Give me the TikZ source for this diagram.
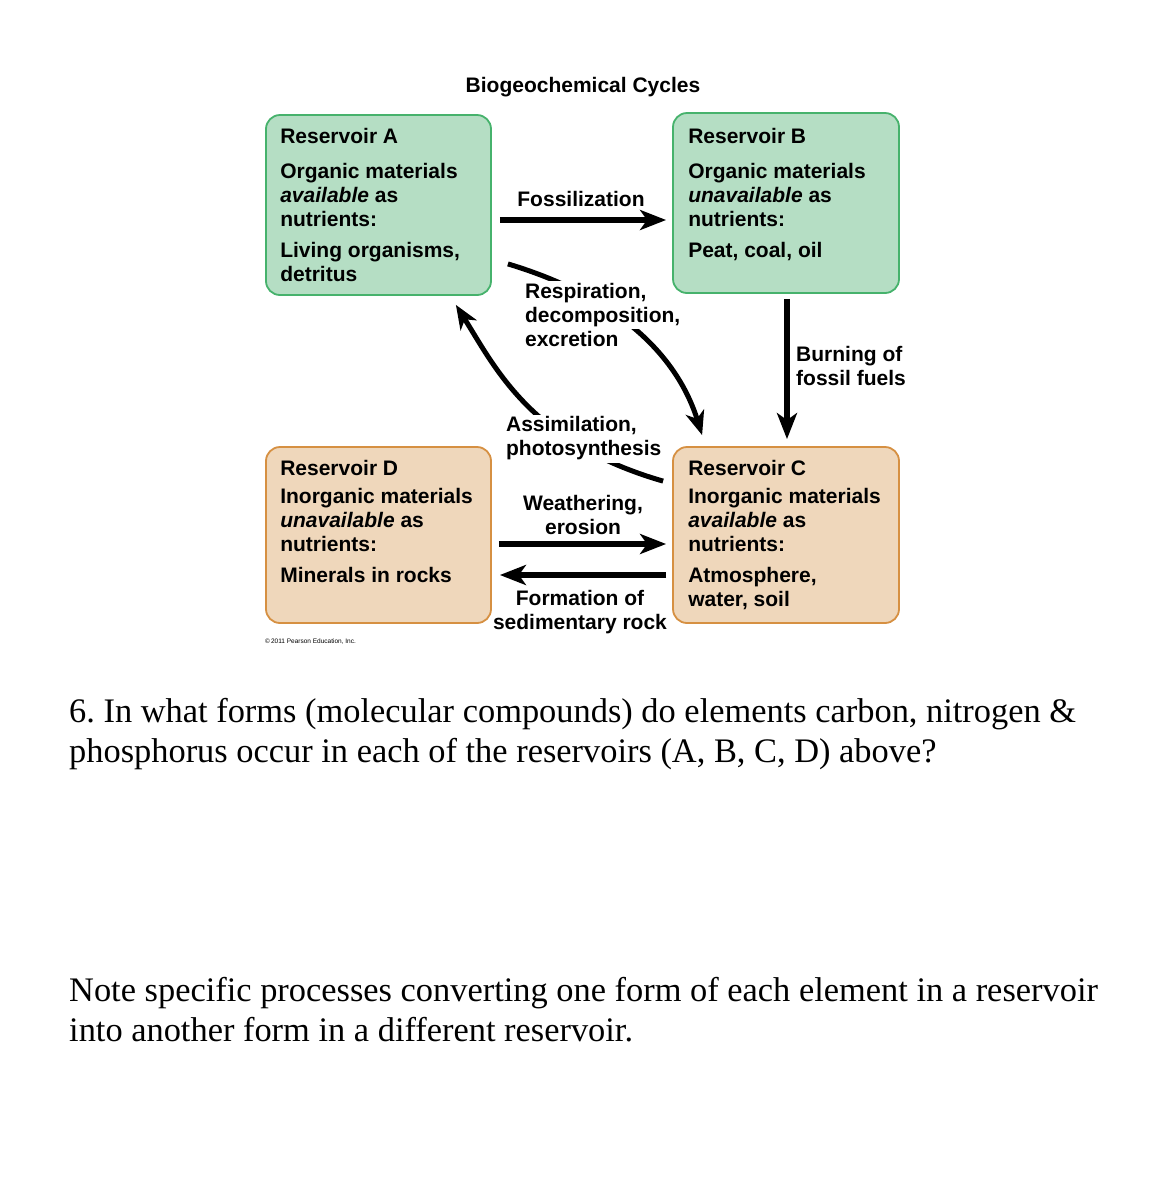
\documentclass[tikz,border=0pt]{standalone}
\usepackage{fontspec}
\setmainfont{Liberation Serif}
\setsansfont{Liberation Sans}
\usetikzlibrary{positioning,arrows.meta}
\definecolor{greenfill}{RGB}{181,222,196}
\definecolor{greenline}{RGB}{70,178,108}
\definecolor{tanfill}{RGB}{239,215,187}
\definecolor{tanline}{RGB}{214,144,66}
\tikzset{
    every node/.style={font=\sffamily\bfseries\fontsize{21}{24}\selectfont},
    greenbox/.style={draw=greenline, fill=greenfill, line width=1.8pt, rounded corners=14pt, minimum width=225pt, minimum height=180pt},
    tanbox/.style={draw=tanline, fill=tanfill, line width=1.8pt, rounded corners=14pt, minimum width=225pt, minimum height=176pt},
    boxtext/.style={anchor=base west, align=left, inner sep=0pt},
    lbl/.style={align=center, inner sep=0pt},
    knock/.style={fill=white, anchor=base west, inner xsep=1pt, inner ysep=0pt, text height=17pt, text depth=7pt},
    arrow/.style={-{Stealth[length=26pt,width=20pt,inset=7pt]}, line width=5.5pt},
    curvearrow/.style={-{Stealth[length=24pt,width=19pt,inset=7pt]}, line width=5pt},
}
\begin{document}
\frenchspacing
\begin{tikzpicture}[x=1pt,y=-1pt]
\useasboundingbox (0,0) rectangle (1170,1195);

\node at (583,92.5) [anchor=base, inner sep=0pt] (title) {Biogeochemical Cycles};

% the four reservoirs
\node[greenbox] (A) at (378.5,205) {};
\node[greenbox, minimum width=226pt] (B) at (786,203) {};
\node[tanbox, minimum width=226pt] (C) at (786,535) {};
\node[tanbox] (D) at (378.5,535) {};

% texts hang from their last line
\node[boxtext] (Atext) at ([xshift=15pt,yshift=-167.5pt]A.north west) {Reservoir A\\[11pt] Organic materials\\ \textit{available} as\\ nutrients:\\[7pt] Living organisms,\\ detritus};
\node[boxtext] (Btext) at ([xshift=16pt,yshift=-145.5pt]B.north west) {Reservoir B\\[11pt] Organic materials\\ \textit{unavailable} as\\ nutrients:\\[7pt] Peat, coal, oil};
\node[boxtext] (Ctext) at ([xshift=16pt,yshift=-160.5pt]C.north west) {Reservoir C\\[4pt] Inorganic materials\\ \textit{available} as\\ nutrients:\\[7pt] Atmosphere,\\ water, soil};
\node[boxtext] (Dtext) at ([xshift=15pt,yshift=-136.5pt]D.north west) {Reservoir D\\[4pt] Inorganic materials\\ \textit{unavailable} as\\ nutrients:\\[7pt] Minerals in rocks};

% straight fluxes
\draw[arrow] ([xshift=8pt,yshift=-15pt]A.east) -- ([xshift=-6pt,yshift=-17pt]B.west);
\draw[arrow] ([xshift=1pt,yshift=-5pt]B.south) -- ([xshift=1pt,yshift=7pt]C.north);
\draw[arrow] ([xshift=7pt,yshift=-9pt]D.east) -- ([xshift=-6pt,yshift=-9pt]C.west);
\draw[arrow] ([xshift=-6pt,yshift=-40pt]C.west) -- ([xshift=8pt,yshift=-40pt]D.east);

\node[lbl, anchor=base] (fossil) at (581,206.5) {Fossilization};
\node[boxtext] (burn) at ([xshift=10pt,yshift=-91.5pt]B.south) {Burning of\\ fossil fuels};
\node[lbl, anchor=base] (weather) at (583,534.5) {Weathering,\\ erosion};
\node[lbl, anchor=base] (sediment) at (580,629.5) {Formation of\\ sedimentary rock};

% curved fluxes, knocked out under their labels
\draw[curvearrow] ([xshift=16pt,yshift=32pt]A.south east) .. controls +(110,33) and +(-25,-80) .. ([xshift=30pt,yshift=11pt]C.north west);
\draw[curvearrow] ([xshift=-9pt,yshift=-35pt]C.north west) .. controls +(-132,-38) and +(40,64) .. ([xshift=-36pt,yshift=-9pt]A.south east);

\foreach \i/\t in {0/{Respiration,}, 1/{decomposition,}, 2/{excretion}}{
  \node[knock] (resp\i) at ([xshift=32pt,yshift={-2.5pt-24pt*\i}]A.south east) {\t};
}
\foreach \i/\t in {0/{Assimilation,}, 1/{photosynthesis}}{
  \node[knock] (assim\i) at ([xshift=13pt,yshift={14.5pt-24pt*\i}]D.north east) {\t};
}

\node[anchor=base west, inner sep=0pt, font=\sffamily\fontsize{6.5}{8}\selectfont] (copy) at (265,643) {\textcopyright\,2011 Pearson Education, Inc.};

% question text
\node[anchor=base west, align=left, inner sep=0pt, font=\rmfamily\fontsize{34.4}{40}\selectfont] (q6) at (69,762) {6. In what forms (molecular compounds) do elements carbon, nitrogen \&\\ phosphorus occur in each of the reservoirs (A, B, C, D) above?};
\node[anchor=base west, align=left, inner sep=0pt, font=\rmfamily\fontsize{34.4}{40}\selectfont] (note) at (69,1041) {Note specific processes converting one form of each element in a reservoir\\ into another form in a different reservoir.};
\end{tikzpicture}
\end{document}
